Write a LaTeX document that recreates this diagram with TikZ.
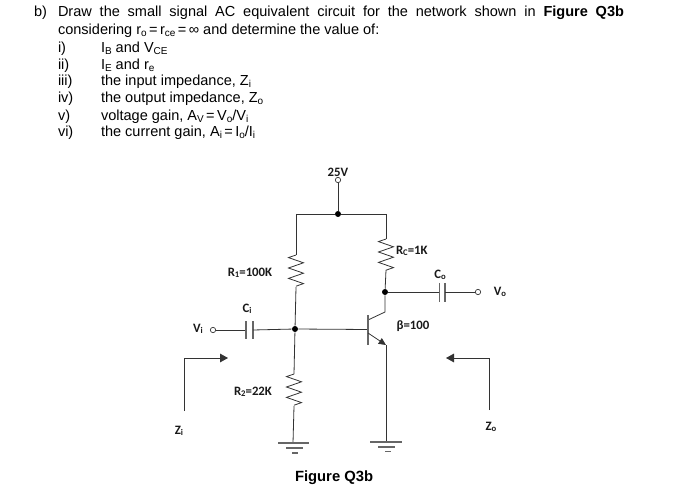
\documentclass[tikz,border=0pt]{standalone}
\usepackage{fontspec}
\setmainfont{Liberation Sans}
\newfontfamily\calib{Carlito}
\usetikzlibrary{arrows.meta}
\newcommand{\lowt}[1]{\raisebox{-0.25ex}{\fontsize{7.5pt}{8pt}\selectfont #1}}
\newcommand{\lowc}[1]{\raisebox{-0.25ex}{\fontsize{6.5pt}{7pt}\selectfont #1}}
\newcommand{\zigz}{-- ++(-7.5,2.6) -- ++(15,5.2) -- ++(-15,5.2) -- ++(15,5.2) -- ++(-15,5.2) -- ++(15,5.2) -- ++(-7.5,2.6)}
\tikzset{
  wire/.style={draw=black!80,line width=0.6pt},
  plate/.style={draw=black!60,line width=0.8pt},
  txt/.style={anchor=base west,inner sep=0pt,outer sep=0pt,font=\fontsize{10.9pt}{12pt}\selectfont},
  lab/.style={inner sep=0pt,outer sep=0pt,font=\calib\bfseries\fontsize{9.6pt}{10pt}\selectfont,text=black!90},
  junction/.style={circle,fill=black,draw=none,minimum size=4.5pt,inner sep=0pt},
  term/.style={circle,draw=black!80,fill=white,line width=0.5pt,minimum size=4pt,inner sep=0pt},
  bigarrow/.style={wire,-{Triangle[length=6pt,width=6.5pt]}}
}
\begin{document}
\begin{tikzpicture}[x=0.75pt,y=-0.75pt]
\useasboundingbox (0,0) rectangle (677,491);
% question text
\node[txt] (tb) at (34,17) {b)};
\node[txt] (t0) at (58,17) {\makebox[424.5pt][s]{Draw the small signal AC equivalent circuit for the network shown in \textbf{Figure Q3b}}};
\node[txt] (t1) at (58,35) {considering r\lowt{o}\,=\,r\lowt{ce}\,=\,∞ and determine the value of:};
\node[txt] (n1) at (58,52.5) {i)};
\node[txt] (l1) at (101,52.5) {I\lowt{B} and V\lowt{CE}};
\node[txt] (n2) at (58,69.5) {ii)};
\node[txt] (l2) at (101,69.5) {I\lowt{E} and r\lowt{e}};
\node[txt] (n3) at (58,86) {iii)};
\node[txt] (l3) at (101,86) {the input impedance, Z\lowt{i}};
\node[txt] (n4) at (58,103) {iv)};
\node[txt] (l4) at (101,103) {the output impedance, Z\lowt{o}};
\node[txt] (n5) at (58,120.5) {v)};
\node[txt] (l5) at (101,120.5) {voltage gain, A\lowt{V}\,=\,V\lowt{o}/V\lowt{i}};
\node[txt] (n6) at (58,137) {vi)};
\node[txt] (l6) at (101,137) {the current gain, A\lowt{i}\,=\,I\lowt{o}/I\lowt{i}};
\node[txt,font=\bfseries\fontsize{11.1pt}{12pt}\selectfont] (fig) at (295,481) {Figure Q3b};
% junctions and terminals
\node[term] (vcc) at (338,180) {};
\node[junction] (top) at (338,214) {};
\node[junction] (base) at (295,329) {};
\node[junction] (coll) at (385,292) {};
\node[term] (vi) at (213,330) {};
\node[term] (vo) at (478,292) {};
% corners and ends
\coordinate (tl) at (296,214);
\coordinate (tr) at (386,214);
\coordinate (r1a) at (296,255);
\coordinate (r1b) at (296,287);
\coordinate (r2a) at (294,374);
\coordinate (r2b) at (294,406);
\coordinate (rca) at (386,239);
\coordinate (rcb) at (386,270);
\coordinate (g1) at (293,443);
\coordinate (g2) at (386,442);
\coordinate (ci1) at (246,330);
\coordinate (ci2) at (253,330);
\coordinate (co1) at (439.5,292);
\coordinate (co2) at (445,292);
\coordinate (bb) at (368,329.5);
\coordinate (cend) at (385,312);
\coordinate (cbar) at (368,320);
\coordinate (ebar) at (368,333);
\coordinate (eend) at (386,345);
% supply rail
\draw[wire] (vcc) -- (top);
\draw[wire] (tl) -- (top) -- (tr);
% R1
\draw[wire] (tl) -- (r1a);
\draw[wire] (r1a) \zigz;
\draw[wire] (r1b) -- (base);
% R2
\draw[wire] (base) -- (r2a);
\draw[wire] (r2a) \zigz;
\draw[wire] (r2b) -- (g1);
% RC
\draw[wire] (tr) -- (rca);
\draw[wire] (rca) \zigz;
\draw[wire] (rcb) -- (coll);
\draw[wire] (coll) -- (cend) -- (cbar);
% input
\draw[wire] (vi) -- (ci1);
\draw[plate] (246,321) -- (246,339);
\draw[plate] (253,321) -- (253,339);
\draw[wire] (ci2) -- (base);
\draw[wire] (base) -- (bb);
% transistor
\draw[plate] (368,315) -- (368,345);
\draw[wire,-{Triangle[length=5.5pt,width=5pt]}] (ebar) -- (eend);
\draw[wire] (eend) -- (g2);
% output
\draw[wire] (coll) -- (co1);
\draw[plate] (439.5,283) -- (439.5,302);
\draw[plate] (445,283) -- (445,302);
\draw[wire] (co2) -- (vo);
% grounds
\draw[plate] (278,443) -- (309,443);
\draw[plate] (286,448) -- (303,448);
\draw[plate] (292,453) -- (298,453);
\draw[plate] (370,442) -- (402,442);
\draw[plate] (378,447) -- (395,447);
\draw[plate] (385,451.5) -- (391,451.5);
% impedance arrows
\coordinate (zia) at (184,411);
\coordinate (zib) at (184,358);
\coordinate (zic) at (228,358);
\draw[bigarrow] (zia) -- (zib) -- (zic);
\coordinate (zoa) at (489,410);
\coordinate (zob) at (489,358);
\coordinate (zoc) at (446,358);
\draw[bigarrow] (zoa) -- (zob) -- (zoc);
% labels
\node[lab] (l25) at (338,172) {25V};
\node[lab,anchor=west] (lrc) at (396,251) {R\lowc{C}=1K};
\node[lab] (lr1) at (250,273) {R\lowc{1}=100K};
\node[lab] (lr2) at (253,392) {R\lowc{2}=22K};
\node[lab] (lco) at (440,275) {C\lowc{o}};
\node[lab] (lci) at (247,309) {C\lowc{i}};
\node[lab] (lvi) at (198,329) {V\lowc{i}};
\node[lab] (lvo) at (500,292) {V\lowc{o}};
\node[lab] (lbeta) at (413,326) {β=100};
\node[lab] (lzi) at (179,431) {Z\lowc{i}};
\node[lab] (lzo) at (491,427) {Z\lowc{o}};
\end{tikzpicture}
\end{document}
